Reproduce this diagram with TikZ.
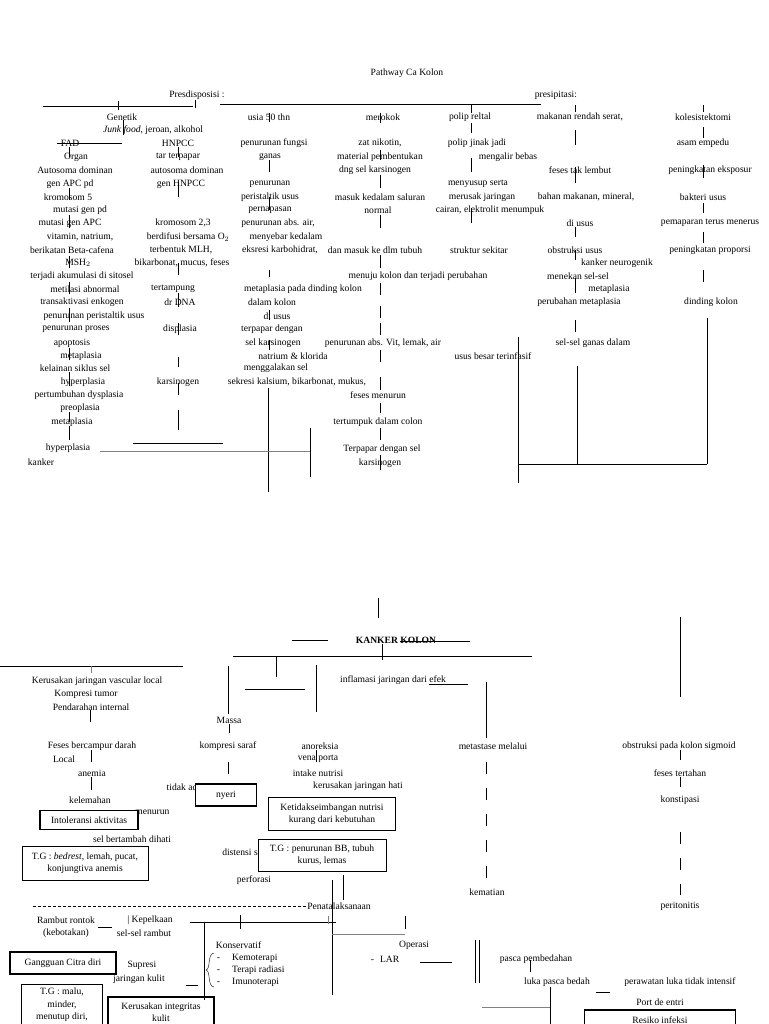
\documentclass[tikz,border=0pt]{standalone}
\usepackage{fontspec}
\setmainfont{Liberation Serif}
\usepackage{amsmath}
\usepackage{tikz}

\begin{document}
\begin{tikzpicture}[x=1pt,y=-1pt,
  every node/.style={font=\fontsize{9.6}{12.5}\selectfont,inner sep=0.75pt,align=center},
  dx/.style={draw,line width=1.8pt,minimum height=20pt},
  tg/.style={draw,line width=0.5pt},
  tick/.style={line width=0.7pt}]

\useasboundingbox[fill=white] (0,0) rectangle (768,1024);

% judul
\node (judul) at (407,73) {Pathway Ca Kolon};
\node (pres) at (197,95) {Presdisposisi :};
\node (presip) at (556,95) {presipitasi:};
\draw (43,106) -- (193,106);
\draw (220,104) -- (541,104);
\draw[tick] (118,101) -- (118,110);
\draw[tick] (195,100) -- (195,108);

% kolom genetik
\node (gen) at (122,117) {Genetik};
\node (junk) at (153,130) {\textit{Junk food}, jeroan, alkohol};
\node (fad) at (70,143) {FAD};
\draw (57,143) -- (122,143);
\node at (76,157) {Organ};
\node at (75,170) {Autosoma dominan};
\node at (70,184) {gen APC pd};
\node at (68,197) {kromosom 5};
\node at (80,210) {mutasi gen pd};
\node at (70,223) {mutasi gen APC};
\node at (80,237) {vitamin, natrium,};
\node at (72,250) {berikatan Beta-cafena};
\node at (78,263) {MSH$_2$};
\node at (82,276) {terjadi akumulasi di sitosel};
\node at (85,289) {metilasi abnormal};
\node at (82,302) {transaktivasi enkogen};
\node at (94,316) {penurunan peristaltik usus};
\node at (76,329) {penurunan proses};
\node at (72,343) {apoptosis};
\node at (81,356) {metaplasia};
\node at (75,368) {kelainan siklus sel};
\node at (83,382) {hyperplasia};
\node at (79,395) {pertumbuhan dysplasia};
\node at (80,408) {preoplasia};
\node at (72,422) {metaplasia};
\node (hyp) at (68,448) {hyperplasia};
\node (kanker) at (41,462) {kanker};
\foreach \ya/\yb in {147/157,188/200,215/228,256/268,282/294,308/322,348/360,372/386,412/422,426/440}
  \draw[tick] (69,\ya) -- (69,\yb);
\draw[tick] (123,120) -- (123,135);

% kolom HNPCC
\node at (178,143) {HNPCC};
\node at (178,157) {tar terpapar};
\node at (187,170) {autosoma dominan};
\node at (181,184) {gen HNPCC};
\node at (183,223) {kromosom 2,3};
\node at (188,237) {berdifusi bersama O$_2$};
\node at (181,250) {terbentuk MLH,};
\node at (182,263) {bikarbonat, mucus, feses};
\node at (173,289) {tertampung};
\node at (180,302) {dr DNA};
\node at (180,329) {displasia};
\node at (178,382) {karsinogen};
\foreach \ya/\yb in {147/157,182/197,263/275,293/307,323/335,357/367,383/395,410/430}
  \draw[tick] (178,\ya) -- (178,\yb);

% kolom usia
\node at (269,117) {usia 50 thn};
\node at (274,143) {penurunan fungsi};
\node at (270,157) {ganas};
\node at (270,184) {penurunan};
\node at (270,197) {peristaltik usus};
\node at (270,210) {pernapasan};
\node at (278,223) {penurunan abs. air,};
\node at (286,237) {menyebar kedalam};
\node at (280,250) {eksresi karbohidrat,};
\node at (303,289) {metaplasia pada dinding kolon};
\node at (272,302) {dalam kolon};
\node at (277,316) {di usus};
\node at (272,329) {terpapar dengan};
\node at (273,343) {sel karsinogen};
\node at (293,356) {natrium \& klorida};
\node at (276,368) {menggalakan sel};
\node at (297,382) {sekresi kalsium, bikarbonat, mukus,};
\foreach \ya/\yb in {113/122,160/172,197/210,270/277,310/320,340/350}
  \draw[tick] (269,\ya) -- (269,\yb);
\draw (268,388) -- (268,492);

% kolom merokok
\node at (383,117) {merokok};
\node at (380,143) {zat nikotin,};
\node at (380,157) {material pembentukan};
\node at (375,170) {dng sel karsinogen};
\node at (380,197) {masuk kedalam saluran};
\node at (378,210) {normal};
\node at (375,250) {dan masuk ke dlm tubuh};
\node at (418,276) {menuju kolon dan terjadi perubahan};
\node at (383,343) {penurunan abs. Vit, lemak, air};
\node at (493,356) {usus besar terinfasif};
\node at (378,395) {feses menurun};
\node at (378,422) {tertumpuk dalam colon};
\node at (382,449) {Terpapar dengan sel};
\node at (380,463) {karsinogen};
\foreach \ya/\yb in {113/123,150/160,175/188,215/228,255/268,283/295,306/318,323/335,350/362,377/390,403/413,428/440,455/470}
  \draw[tick] (380,\ya) -- (380,\yb);

% kolom polip
\node at (470,117) {polip reltal};
\node at (477,143) {polip jinak jadi};
\node at (508,157) {mengalir bebas};
\node at (478,184) {menyusup serta};
\node at (482,197) {merusak jaringan};
\node at (490,210) {cairan, elektrolit menumpuk};
\node at (479,250) {struktur sekitar};
\foreach \ya/\yb in {105/113,123/133,158/172,208/223}
  \draw[tick] (471,\ya) -- (471,\yb);

% kolom makanan
\node at (580,117) {makanan rendah serat,};
\node at (580,170) {feses tak lembut};
\node at (586,197) {bahan makanan, mineral,};
\node at (580,223) {di usus};
\node at (575,250) {obstruksi usus};
\node at (617,263) {kanker neurogenik};
\node at (578,276) {menekan sel-sel};
\node at (609,289) {metaplasia};
\node at (579,302) {perubahan metaplasia};
\node at (593,343) {sel-sel ganas dalam};
\foreach \ya/\yb in {105/112,130/145,167/183,227/237,250/260,278/293,320/332}
  \draw[tick] (575,\ya) -- (575,\yb);

% kolom kolesistektomi
\node at (703,117) {kolesistektomi};
\node at (703,143) {asam empedu};
\node at (710,170) {peningkatan eksposur};
\node at (703,197) {bakteri usus};
\node at (710,223) {pemaparan terus menerus};
\node at (710,250) {peningkatan proporsi};
\node at (711,302) {dinding kolon};
\foreach \ya/\yb in {105/112,127/138,165/178,203/213,232/243,270/282}
  \draw[tick] (703,\ya) -- (703,\yb);

% garis bawah bagian atas
\draw (133,443) -- (223,443);
\draw[gray] (100,451) -- (310,451);
\draw (310,428) -- (310,477);
\draw (518,337) -- (518,483);
\draw (518,464) -- (707,464);
\draw (707,318) -- (707,464);
\draw (577,366) -- (577,464);

% KANKER KOLON
\draw (378,598) -- (378,618);
\node[font=\fontsize{9.6}{12}\selectfont\bfseries] (kk) at (396,640) {KANKER KOLON};
\draw (292,640) -- (328,640);
\draw (400,641) -- (470,641);
\draw (233,656) -- (532,656);
\draw (382,644) -- (382,660);
\draw (276,656) -- (276,677);
\draw (245,689) -- (305,689);
\draw (228,666) -- (228,714);
\draw (316,665) -- (316,712);
\draw (0,666) -- (183,666);
\draw[gray] (91,666) -- (91,673);
\node at (393,680) {inflamasi jaringan dari \underline{efek}};
\draw (440,684) -- (468,684);

% kiri
\node at (97,681) {Kerusakan jaringan vascular local};
\node at (86,694) {Kompresi tumor};
\node at (91,707) {Pendarahan internal};
\draw[tick] (90,710) -- (90,722);
\node at (92,746) {Feses bercampur darah};
\node at (64,759) {Local};
\node at (92,773) {anemia};
\node at (90,800) {kelemahan};
\node at (150,812) {\phantom{x}menurun};
\draw[tick] (91,750) -- (91,762);
\draw[tick] (91,777) -- (91,790);
\node[dx,fill=white,minimum width=98pt,minimum height=19pt] (intol) at (89,820) {Intoleransi aktivitas};
\node at (132,839) {sel bertambah dihati};
\node[tg,minimum width=126pt,minimum height=34pt] (tg1) at (85,863) {T.G : \textit{bedrest}, lemah, pucat,\\konjungtiva anemis};

% tengah
\node at (229,720) {Massa};
\draw[tick] (229,724) -- (229,733);
\node at (228,746) {kompresi saraf};
\draw[tick] (228,762) -- (228,774);
\node at (182,787) {tidak ad};
\node[dx,fill=white,minimum width=61pt,minimum height=22pt] (nyeri) at (226,795) {nyeri};
\node at (320,746) {anoreksia};
\node at (318,759) {vena porta};
\node at (318,773) {intake nutrisi};
\node at (358,786) {kerusakan jaringan hati};
\draw[tick] (316,750) -- (316,762);
\node[dx,fill=white,minimum width=127pt,minimum height=33pt,inner sep=1pt] (ketidak) at (332,814) {Ketidakseimbangan nutrisi\\kurang dari kebutuhan};
\node at (240,852) {distensi s};
\node[tg,fill=white,minimum width=128pt,minimum height=32pt] (tg2) at (322,855) {T.G : penurunan BB, tubuh\\kurus, lemas};
\node at (254,880) {perforasi};
\draw (343,875) -- (343,900);

% kanan
\draw (486,682) -- (486,738);
\node at (493,746) {metastase melalui};
\draw[dash pattern=on 12pt off 14pt] (486,762) -- (486,880);
\node at (487,892) {kematian};
\draw (680,617) -- (680,697);
\node at (679,746) {obstruksi pada kolon sigmoid};
\node at (680,773) {feses tertahan};
\node at (680,800) {konstipasi};
\draw[tick] (680,750) -- (680,760);
\draw[tick] (680,777) -- (680,787);
\draw[dash pattern=on 12pt off 14pt] (680,832) -- (680,895);
\node at (680,906) {peritonitis};

% penatalaksanaan
\draw[densely dashed,line width=0.4pt] (33,906) -- (307,906);
\node at (339,906) {Penatalaksanaan};
\draw (332,880) -- (332,995);
\node at (66,920) {Rambut rontok};
\node at (66,933) {(kebotakan)};
\draw (98,927) -- (112,927);
\node at (150,920) {| Kepelkaan};
\node at (144,933) {sel-sel rambut};
\draw (190,922) -- (336,922);
\draw[tick] (240,915) -- (240,929);
\draw (204,922) -- (204,1000);
\node[dx,minimum width=106pt,minimum height=22pt] (citra) at (63,963) {Gangguan Citra diri};
\node at (142,965) {Supresi};
\node at (139,979) {jaringan kulit};
\draw (186,985) -- (198,985);
\node[anchor=west] at (215,945) {Konservatif};
\node[anchor=west,align=left,font=\fontsize{9.6}{12}\selectfont] at (216,970) {-\hspace{12pt}Kemoterapi\\-\hspace{12pt}Terapi radiasi\\-\hspace{12pt}Imunoterapi};
\draw (214,953) .. controls (207,954) and (211,969) .. (206,970) .. controls (211,971) and (207,986) .. (214,987);
\node[tg,minimum width=81pt,minimum height=42pt] (tg3) at (62,1005) {T.G : malu,\\minder,\\menutup diri,};
\node[dx,minimum width=106pt,minimum height=30pt] (integ) at (161,1012) {Kerusakan integritas\\kulit};

% operasi
\draw[gray] (332,934) -- (405,934);
\draw[tick] (405,916) -- (405,929);
\draw[gray] (328,916) -- (328,924);
\node at (414,945) {Operasi};
\node at (385,959) {-\hspace{6pt}LAR};
\draw (420,962) -- (452,962);
\draw (475,940) -- (475,983);
\draw (479,940) -- (479,983);
\node at (536,959) {pasca pembedahan};
\draw (530,960) -- (530,972);
\node at (557,982) {luka pasca bedah};
\node at (680,982) {perawatan luka tidak intensif};
\draw (596,992) -- (610,992);
\draw (550,987) -- (550,1024);
\draw[gray] (482,1007) -- (550,1007);
\node at (660,1002) {Port de entri};
\node[dx,minimum width=151pt,minimum height=20pt] (resiko) at (660,1020) {Resiko infeksi};

\end{tikzpicture}
\end{document}
